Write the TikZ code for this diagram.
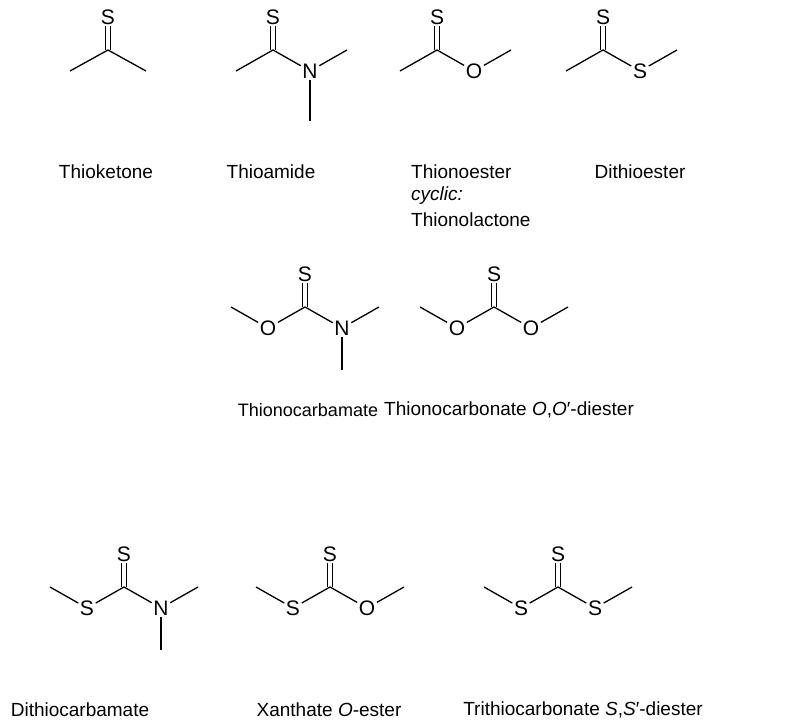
\documentclass[tikz,border=0pt]{standalone}
\usepackage{fontspec}
\setmainfont{Liberation Sans}
\begin{document}
\begin{tikzpicture}[x=1pt,y=-1pt,
  bond/.style={line width=1.3pt},
  dbl/.style={double, double distance=4pt, line width=1.1pt},
  atom/.style={font=\fontsize{21}{21}\selectfont, inner sep=1.5pt},
  lbl/.style={font=\fontsize{19}{22}\selectfont, inner sep=0pt}]
\useasboundingbox (0,0) rectangle (801,727);
% Thioketone
\node[atom] (s1) at (108,17) {S};
\coordinate (c1) at (108,50); \coordinate (l1) at (70,71); \coordinate (r1) at (146,71);
\draw[dbl] (c1) -- (s1); \draw[bond] (l1) -- (c1) -- (r1);
% Thioamide
\node[atom] (s2) at (273,17) {S};
\coordinate (c2) at (273,50); \coordinate (l2) at (236,71);
\node[atom] (n2) at (310,71) {N};
\coordinate (m2) at (347,50); \coordinate (d2) at (310,121);
\draw[dbl] (c2) -- (s2); \draw[bond] (l2) -- (c2) -- (n2); \draw[bond] (n2) -- (m2); \draw[bond] (n2) -- (d2);
% Thionoester
\node[atom] (s3) at (437,17) {S};
\coordinate (c3) at (437,50); \coordinate (l3) at (400,71);
\node[atom] (o3) at (474,71) {O};
\coordinate (m3) at (511,50);
\draw[dbl] (c3) -- (s3); \draw[bond] (l3) -- (c3) -- (o3); \draw[bond] (o3) -- (m3);
% Dithioester
\node[atom] (s4) at (603,17) {S};
\coordinate (c4) at (603,50); \coordinate (l4) at (566,71);
\node[atom] (s4b) at (640,71) {S};
\coordinate (m4) at (677,50);
\draw[dbl] (c4) -- (s4); \draw[bond] (l4) -- (c4) -- (s4b); \draw[bond] (s4b) -- (m4);
\node[lbl] (t1) at (106,172) {Thioketone};
\node[lbl] (t2) at (271,172) {Thioamide};
\node[lbl, anchor=west] (t3) at (411,172) {Thionoester};
\node[lbl, anchor=west] (t3b) at (411,196) {\itshape cyclic:};
\node[lbl, anchor=west] (t3c) at (411,220) {Thionolactone};
\node[lbl] (t4) at (640,172) {Dithioester};
% Thionocarbamate
\node[atom] (s5) at (305,274) {S};
\coordinate (c5) at (305,307); \coordinate (l5) at (231,307);
\node[atom] (o5) at (268,328) {O};
\node[atom] (n5) at (342,328) {N};
\coordinate (m5) at (379,307); \coordinate (d5) at (342,370);
\draw[dbl] (c5) -- (s5); \draw[bond] (l5) -- (o5) -- (c5) -- (n5) -- (m5); \draw[bond] (n5) -- (d5);
% Thionocarbonate
\node[atom] (s6) at (494,274) {S};
\coordinate (c6) at (494,307); \coordinate (l6) at (420,307);
\node[atom] (o6) at (457,328) {O};
\node[atom] (o6b) at (531,328) {O};
\coordinate (m6) at (568,307);
\draw[dbl] (c6) -- (s6); \draw[bond] (l6) -- (o6) -- (c6) -- (o6b) -- (m6);
\node[lbl, font=\fontsize{18}{22}\selectfont] (t5) at (308,410) {Thionocarbamate};
\node[lbl, anchor=west] (t6) at (384,410) {Thionocarbonate \textit{O},\textit{O}′-diester};
% Dithiocarbamate
\node[atom] (s7) at (124,554) {S};
\coordinate (c7) at (124,587); \coordinate (l7) at (50,587);
\node[atom] (s7b) at (87,608) {S};
\node[atom] (n7) at (161,608) {N};
\coordinate (m7) at (198,587); \coordinate (d7) at (161,650);
\draw[dbl] (c7) -- (s7); \draw[bond] (l7) -- (s7b) -- (c7) -- (n7) -- (m7); \draw[bond] (n7) -- (d7);
% Xanthate
\node[atom] (s8) at (330,554) {S};
\coordinate (c8) at (330,587); \coordinate (l8) at (256,587);
\node[atom] (s8b) at (293,608) {S};
\node[atom] (o8) at (367,608) {O};
\coordinate (m8) at (404,587);
\draw[dbl] (c8) -- (s8); \draw[bond] (l8) -- (s8b) -- (c8) -- (o8) -- (m8);
% Trithiocarbonate
\node[atom] (s9) at (558,554) {S};
\coordinate (c9) at (558,587); \coordinate (l9) at (484,587);
\node[atom] (s9b) at (521,608) {S};
\node[atom] (s9c) at (595,608) {S};
\coordinate (m9) at (632,587);
\draw[dbl] (c9) -- (s9); \draw[bond] (l9) -- (s9b) -- (c9) -- (s9c) -- (m9);
\node[lbl] (t7) at (80,710) {Dithiocarbamate};
\node[lbl] (t8) at (329,710) {Xanthate \textit{O}-ester};
\node[lbl] (t9) at (583,710) {Trithiocarbonate \textit{S},\textit{S}′-diester};
\end{tikzpicture}
\end{document}
